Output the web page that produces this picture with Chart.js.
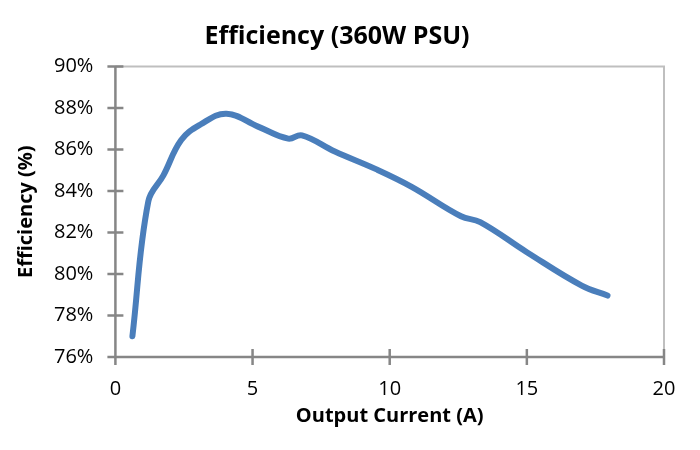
<!DOCTYPE html>
<html>
<head>
<meta charset="utf-8">
<script src="https://cdn.jsdelivr.net/npm/chart.js@4"></script>
<style>
  body { margin: 0; background: #fff; }
  #wrap { width: 700px; height: 450px; }
</style>
</head>
<body>
<div id="wrap"><canvas id="myChart"></canvas></div>
<script>
// output current (A) and efficiency (%)
let current = [0.62, 1.2, 1.75, 2.4, 3.1, 4.05, 5.2, 6.3, 6.8, 8.0, 9.5, 10.8, 12.6, 13.3, 15.0, 17.0, 17.94];
let efficiency = [77.0, 83.5, 84.75, 86.45, 87.2, 87.72, 87.1, 86.52, 86.68, 85.9, 85.05, 84.2, 82.78, 82.5, 81.05, 79.44, 78.96];
let xTicks = [0, 5, 10, 15, 20];
let yTicks = [76, 78, 80, 82, 84, 86, 88, 90];

let points = current.map((c, i) => ({ x: c, y: efficiency[i] }));

const axisColor = "#868686";

// Excel style ticks that cross the axis line, plus the light frame top and right
const crossTicks = {
    id: "crossTicks",
    afterDraw(chart) {
        const ctx = chart.ctx;
        const a = chart.chartArea;
        const xs = chart.scales.x;
        const ys = chart.scales.y;
        ctx.save();
        ctx.strokeStyle = "#bfbfbf";
        ctx.lineWidth = 2;
        ctx.beginPath();
        ctx.moveTo(a.left, a.top);
        ctx.lineTo(a.right, a.top);
        ctx.lineTo(a.right, a.bottom);
        ctx.stroke();

        ctx.strokeStyle = axisColor;
        ctx.lineWidth = 2.5;
        ctx.beginPath();
        ctx.moveTo(a.left, a.top);
        ctx.lineTo(a.left, a.bottom);
        ctx.lineTo(a.right, a.bottom);
        yTicks.forEach(v => {
            let p = ys.getPixelForValue(v);
            ctx.moveTo(a.left - 8, p);
            ctx.lineTo(a.left + 8, p);
        });
        xTicks.forEach(v => {
            let p = xs.getPixelForValue(v);
            ctx.moveTo(p, a.bottom - 8);
            ctx.lineTo(p, a.bottom + 8);
        });
        ctx.stroke();
        ctx.restore();
    }
};

Chart.defaults.font.family = "'Open Sans', sans-serif";
Chart.defaults.color = "#000";

new Chart("myChart", {
    type: "line",
    data: {
        datasets: [{
            data: points,
            borderColor: "#4a7ebb",
            borderWidth: 6,
            borderCapStyle: "round",
            borderJoinStyle: "round",
            pointRadius: 0,
            tension: 0.4,
            fill: false
        }]
    },
    options: {
        responsive: true,
        maintainAspectRatio: false,
        animation: false,
        layout: { padding: { left: 10, right: 36, top: 12, bottom: 22 } },
        plugins: {
            legend: { display: false },
            tooltip: { enabled: false },
            title: {
                display: true,
                text: "Efficiency (360W PSU)",
                font: { size: 25, weight: "bold" },
                color: "#000",
                padding: { top: 10, bottom: 14.4 }
            }
        },
        scales: {
            x: {
                type: "linear",
                min: 0,
                max: 20,
                afterBuildTicks: s => { s.ticks = xTicks.map(v => ({ value: v })); },
                grid: { display: false },
                border: { display: false },
                ticks: { font: { size: 20 }, padding: 12, color: "#000" },
                title: {
                    display: true,
                    text: "Output Current (A)",
                    font: { size: 20, weight: "bold" },
                    color: "#000",
                    padding: { top: -9, bottom: 0 }
                }
            },
            y: {
                min: 76,
                max: 90,
                afterBuildTicks: s => { s.ticks = yTicks.map(v => ({ value: v })); },
                grid: { display: false },
                border: { display: false },
                ticks: {
                    font: { size: 20 },
                    padding: 14,
                    color: "#000",
                    callback: v => v + "%"
                },
                title: {
                    display: true,
                    text: "Efficiency (%)",
                    font: { size: 20, weight: "bold" },
                    color: "#000",
                    padding: { bottom: 2 }
                }
            }
        }
    },
    plugins: [crossTicks]
});
</script>
</body>
</html>
